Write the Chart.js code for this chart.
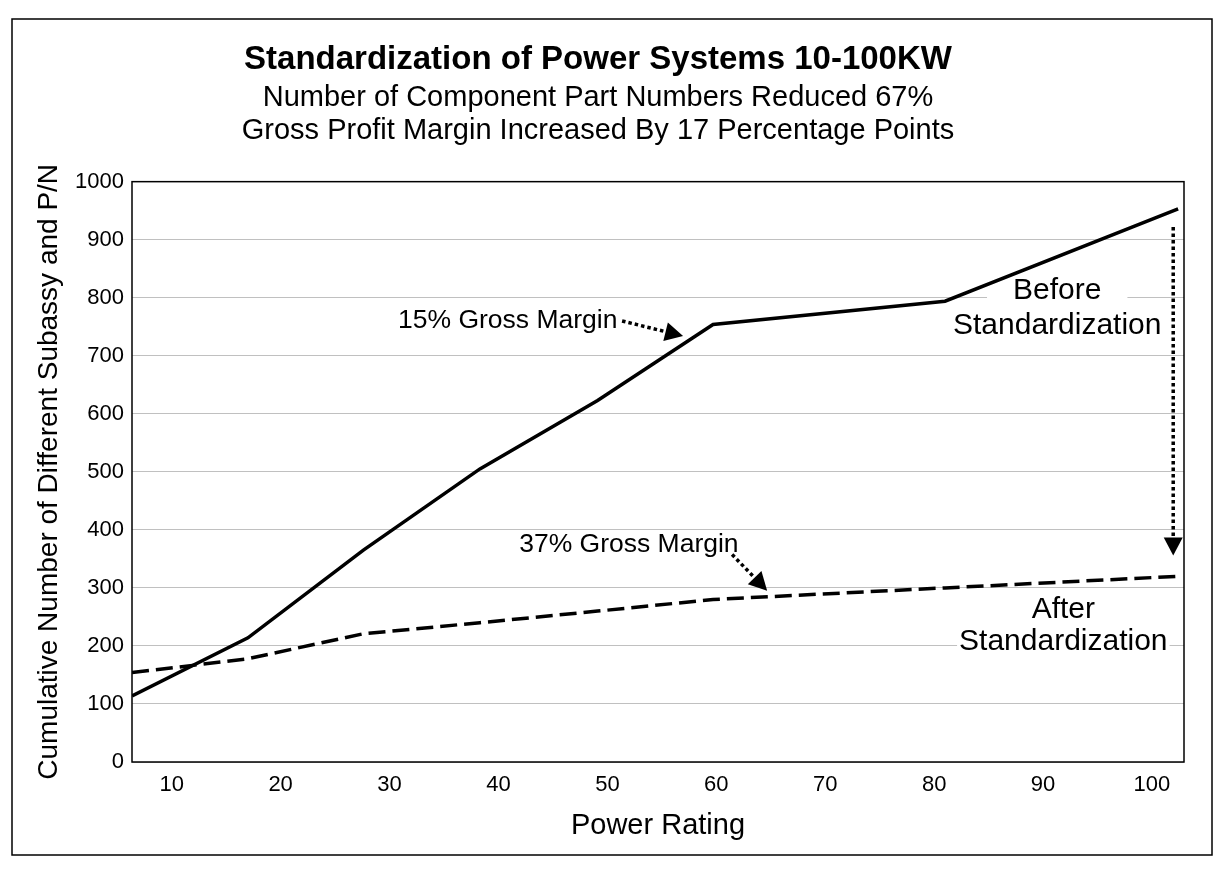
<!DOCTYPE html>
<html>
<head>
<meta charset="utf-8">
<script src="https://cdn.jsdelivr.net/npm/chart.js@4.4.1/dist/chart.umd.min.js"></script>
<style>
  html, body { margin: 0; padding: 0; background: #fff; }
  #wrap { width: 1225px; height: 869px; }
</style>
</head>
<body>
<div id="wrap"><canvas id="chart"></canvas></div>
<script>
/* Standardization of Power Systems — line chart */

const powerRating = [6.36, 17.0, 27.6, 38.3, 49.1, 59.7, 81.0, 102.4];
const beforeParts = [114, 214, 365, 505, 623, 754, 794, 953];
const afterParts  = [154, 178, 221, 240, 260, 280, 300, 320];
const xTicks = [10, 20, 30, 40, 50, 60, 70, 80, 90, 100];
const yTicks = [0, 100, 200, 300, 400, 500, 600, 700, 800, 900, 1000];

const FONT = '"Liberation Sans", Arial, sans-serif';

// callouts, anchored in data units
const notes = [
    { text: "15% Gross Margin", x: 30.78, y: 748, align: "left", size: 26.5, pad: 0 },
    { text: "37% Gross Margin", x: 41.9, y: 362.7, align: "left", size: 26.5, pad: 0 },
    { text: "Before", x: 91.3, y: 798, align: "center", size: 30, pad: 26 },
    { text: "Standardization", x: 91.3, y: 737.5, align: "center", size: 30, pad: 0 },
    { text: "After", x: 91.86, y: 248.7, align: "center", size: 30, pad: 2 },
    { text: "Standardization", x: 91.86, y: 193.4, align: "center", size: 30, pad: 2 }
];

const arrows = [
    { x1: 51.35, y1: 760, x2: 56.95, y2: 734 },
    { x1: 61.45, y1: 357.5, x2: 64.67, y2: 295.3 },
    { x1: 101.95, y1: 922, x2: 101.95, y2: 356 }
];

function drawArrow(ctx, x1, y1, x2, y2) {
    const ang = Math.atan2(y2 - y1, x2 - x1);
    const head = 18, half = 9.5;
    const bx = x2 - head * Math.cos(ang);
    const by = y2 - head * Math.sin(ang);
    ctx.lineWidth = 3.5;
    ctx.setLineDash([3.5, 3]);
    ctx.beginPath();
    ctx.moveTo(x1, y1);
    ctx.lineTo(bx, by);
    ctx.stroke();
    ctx.setLineDash([]);
    ctx.beginPath();
    ctx.moveTo(x2, y2);
    ctx.lineTo(bx + half * Math.sin(ang), by - half * Math.cos(ang));
    ctx.lineTo(bx - half * Math.sin(ang), by + half * Math.cos(ang));
    ctx.closePath();
    ctx.fill();
}

const overlay = {
    id: "overlay",
    beforeDraw(chart) {
        const ctx = chart.ctx;
        ctx.save();
        ctx.fillStyle = "#fff";
        ctx.fillRect(0, 0, chart.width, chart.height);
        ctx.restore();
    },
    beforeDatasetsDraw(chart) {
        // white boxes behind the callout text
        const { ctx, scales: { x, y } } = chart;
        ctx.save();
        ctx.fillStyle = "#fff";
        notes.forEach(n => {
            if (!n.pad) return;
            ctx.font = n.size + "px " + FONT;
            const w = ctx.measureText(n.text).width;
            const px = x.getPixelForValue(n.x);
            const py = y.getPixelForValue(n.y);
            const left = n.align === "center" ? px - w / 2 : px;
            ctx.fillRect(left - n.pad, py - n.size * 0.8, w + n.pad * 2, n.size);
        });
        ctx.restore();
    },
    afterDatasetsDraw(chart) {
        const { ctx, chartArea: a, scales: { x, y } } = chart;
        ctx.save();
        ctx.strokeStyle = "#000";
        ctx.fillStyle = "#000";
        ctx.lineWidth = 1.5;
        ctx.strokeRect(a.left, a.top, a.right - a.left, a.bottom - a.top);
        ctx.strokeRect(12, 19, 1200, 836);

        notes.forEach(n => {
            ctx.font = n.size + "px " + FONT;
            ctx.textAlign = n.align;
            ctx.textBaseline = "alphabetic";
            ctx.fillText(n.text, x.getPixelForValue(n.x), y.getPixelForValue(n.y));
        });

        arrows.forEach(r => {
            drawArrow(ctx,
                x.getPixelForValue(r.x1), y.getPixelForValue(r.y1),
                x.getPixelForValue(r.x2), y.getPixelForValue(r.y2));
        });
        ctx.restore();
    }
};

new Chart(document.getElementById("chart"), {
    type: "line",
    data: {
        datasets: [
            {
                label: "Before Standardization",
                data: powerRating.map((v, i) => ({ x: v, y: beforeParts[i] })),
                borderColor: "#000",
                borderWidth: 3.5,
                pointRadius: 0,
                tension: 0
            },
            {
                label: "After Standardization",
                data: powerRating.map((v, i) => ({ x: v, y: afterParts[i] })),
                borderColor: "#000",
                borderWidth: 3.5,
                borderDash: [17, 7],
                pointRadius: 0,
                tension: 0
            }
        ]
    },
    options: {
        responsive: true,
        maintainAspectRatio: false,
        animation: false,
        layout: {
            padding: { top: 20, left: 12, right: 41, bottom: 14 }
        },
        plugins: {
            legend: { display: false },
            tooltip: { enabled: false },
            title: {
                display: true,
                text: "Standardization of Power Systems 10-100KW",
                color: "#000",
                font: { family: FONT, size: 33, weight: "bold", lineHeight: 1.2 },
                padding: { top: 20.5, bottom: 0 }
            },
            subtitle: {
                display: true,
                text: ["Number of Component Part Numbers Reduced 67%",
                       "Gross Profit Margin Increased By 17 Percentage Points"],
                color: "#000",
                font: { family: FONT, size: 29, lineHeight: 1.12 },
                padding: { top: 2, bottom: 34.6 }
            }
        },
        scales: {
            x: {
                type: "linear",
                min: 6.355,
                max: 102.94,
                afterBuildTicks: s => { s.ticks = xTicks.map(v => ({ value: v })); },
                afterFit: s => { s.height = 93; },
                grid: { display: false, drawTicks: false },
                border: { display: false },
                ticks: {
                    color: "#000",
                    padding: 10,
                    maxRotation: 0,
                    autoSkip: false,
                    callback: v => String(v),
                    font: { family: FONT, size: 22 }
                },
                title: {
                    display: true,
                    text: "Power Rating",
                    color: "#000",
                    font: { family: FONT, size: 29, lineHeight: 1.2 },
                    padding: { top: 0, bottom: 11.6 }
                }
            },
            y: {
                min: 0,
                max: 1000,
                afterBuildTicks: s => { s.ticks = yTicks.map(v => ({ value: v })); },
                afterFit: s => { s.width = 120; },
                grid: { color: "#c0c0c0", lineWidth: 1, drawTicks: false },
                border: { display: false },
                ticks: {
                    color: "#000",
                    padding: 8,
                    callback: v => String(v),
                    font: { family: FONT, size: 22 }
                },
                title: {
                    display: true,
                    text: "Cumulative Number of Different Subassy and P/N",
                    color: "#000",
                    font: { family: FONT, size: 28, lineHeight: 1.2 },
                    padding: { top: 20, bottom: 0 }
                }
            }
        }
    },
    plugins: [overlay]
});
</script>
</body>
</html>
